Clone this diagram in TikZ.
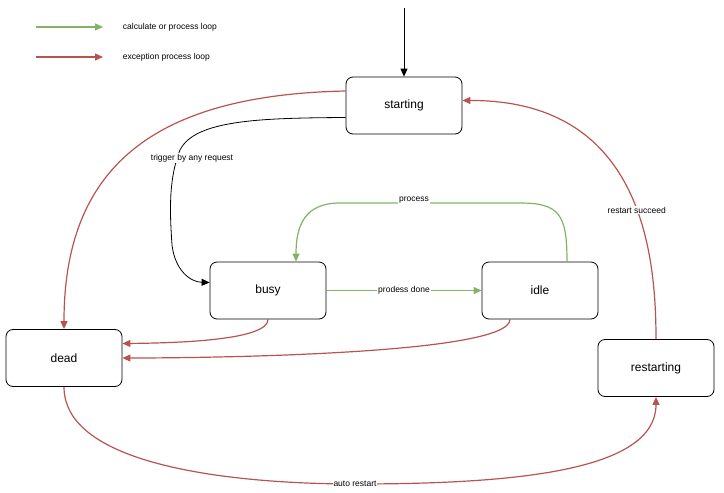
\documentclass[tikz,border=0pt]{standalone}
\usepackage{fontspec}
\setmainfont{Liberation Sans}
\usetikzlibrary{arrows.meta}
\definecolor{gr}{HTML}{82B366}
\definecolor{rd}{HTML}{B85450}
\begin{document}
\begin{tikzpicture}[x=1pt,y=-1pt,
 st/.style={draw,line width=0.8pt,rounded corners=7pt,minimum width=116pt,minimum height=57pt,font=\fontsize{12}{14}\selectfont},
 lab/.style={fill=white,inner sep=1pt,font=\fontsize{8.5}{10}\selectfont},
 ar/.style={line width=1.2pt,-{Triangle[length=8pt,width=7pt]}},
 g/.style={ar,draw=gr},r/.style={ar,draw=rd}]
\useasboundingbox (0,0) rectangle (724,493);
\node[st] (start) at (404,105.5) {starting};
\node[st] (busy) at (268,290.5) {busy};
\node[st] (idle) at (540,290.5) {idle};
\node[st] (dead) at (64,358) {dead};
\node[st] (rest) at (656,368) {restarting};
\coordinate (top) at (404,8);
\coordinate (l1) at (36,27); \coordinate (l1e) at (103,27);
\coordinate (l2) at (36,57); \coordinate (l2e) at (103,57);
\draw[g] (l1) -- (l1e) node[right=16pt,anchor=west,font=\fontsize{8.5}{10}\selectfont] {calculate or process loop};
\draw[r] (l2) -- (l2e) node[right=16pt,anchor=west,font=\fontsize{8.5}{10}\selectfont] {exception process loop};
\draw[ar,line width=0.8pt] (top) -- (start.north);
\draw[r] ([yshift=14.5pt]start.west) .. controls (150,95) and (64,170) .. (dead.north);
\draw[ar,line width=0.8pt] ([yshift=-12pt]start.west) .. controls (260,118) and (195,120) .. (180,150)
  .. controls (168,180) and (170,215) .. (172,245)
  .. controls (175,270) and (190,282) .. ([yshift=8pt]busy.west);
\node[lab] (tl) at (192,158) {trigger by any request};
\draw[g] ([xshift=27pt]idle.north) .. controls (567,215) and (560,203) .. (520,203) -- (340,203)
  .. controls (305,203) and (296,225) .. ([xshift=28pt]busy.north);
\node[lab] (pl) at (414,200) {process};
\draw[g] (busy) -- node[lab] {prodess done} (idle);
\draw[r] (busy.south) .. controls (268,340) and (180,343) .. ([yshift=14.5pt]dead.east);
\draw[r] ([xshift=-30pt]idle.south) .. controls (510,355) and (200,358) .. (dead.east);
\draw[r] (dead.south) .. controls (64,470) and (250,484) .. (355,484) node[lab] {auto restart}
  .. controls (520,484) and (656,470) .. (rest.south);
\draw[r] (rest.north) .. controls (656,250) and (640,100) .. ([yshift=5pt]start.east)
  node[pos=0.42,lab] {restart succeed};
\end{tikzpicture}
\end{document}
